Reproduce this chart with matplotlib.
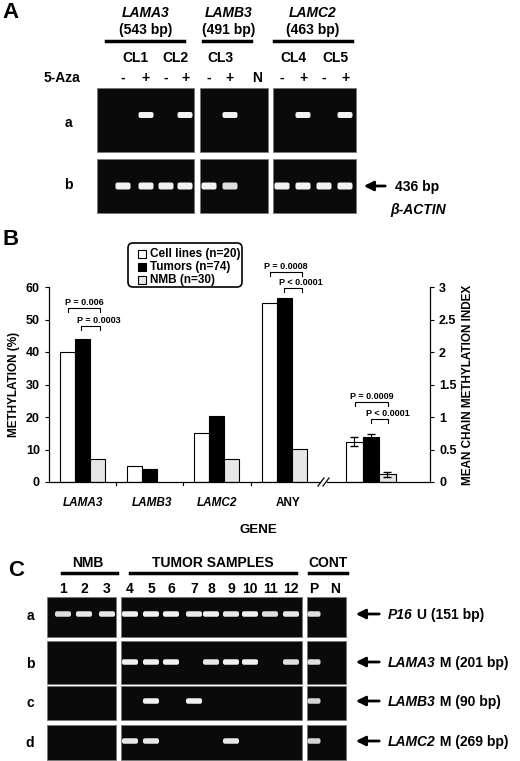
import matplotlib.pyplot as plt
from matplotlib.patches import Rectangle, FancyBboxPatch

plt.rcParams["font.family"] = ["Liberation Sans", "DejaVu Sans"]
plt.rcParams["font.weight"] = "bold"

# ---- panel B data ----
genes = ["LAMA3", "LAMB3", "LAMC2", "ANY"]
cell_lines = [40, 5, 15, 55]
tumors = [44, 4, 20.3, 56.5]
nmb = [7, 0, 7, 10.3]
mcmi_vals = [0.62, 0.70, 0.12]      # cell lines, tumors, NMB (right axis)
mcmi_err = [0.07, 0.04, 0.04]
legend_labels = ["Cell lines (n=20)", "Tumors (n=74)", "NMB (n=30)"]

# ---- panel A gel data (band intensity per lane, 0 = none) ----
a_lanes_row_a = [0, 1, 0, 1, 0, 1, 0, 0, 1, 0, 1]
a_lanes_row_b = [1, 1, 1, 1, 1, 0.8, 0, 1, 1, 1, 1]
a_aza = ["-", "+", "-", "+", "-", "+", "N", "-", "+", "-", "+"]

# ---- panel C gel data: lanes 1..12, P, N ----
c_lanes = ["1", "2", "3", "4", "5", "6", "7", "8", "9", "10", "11", "12", "P", "N"]
c_rows = {
    "a": [0.8, 0.9, 0.9, 1, 1, 1, 0.9, 1, 0.9, 1, 0.8, 0.9, 0.8, 0],
    "b": [0, 0, 0, 1, 1, 1, 0, 0.9, 1, 1, 0, 0.8, 0.8, 0],
    "c": [0, 0, 0, 0, 1, 0, 1, 0, 0, 0, 0, 0, 0.7, 0],
    "d": [0, 0, 0, 0.9, 0.9, 0, 0, 0, 0.9, 0, 0, 0, 0.7, 0],
}
c_row_labels = ["P16 U (151 bp)", "LAMA3 M (201 bp)", "LAMB3 M (90 bp)", "LAMC2 M (269 bp)"]

fig = plt.figure(figsize=(5.2, 7.61), dpi=100)

# ================= Panel B bar axes =================
ax = fig.add_axes([49 / 520, 1 - 482 / 761, (430 - 49) / 520, (482 - 287) / 761])
ax.set_xlim(0, 381)
ax.set_ylim(0, 60)
starts = [11, 78, 145, 213]
w = 15
colors = ["white", "black", "#e6e6e6"]
for i, s in enumerate(starts):
    for j, vals in enumerate([cell_lines, tumors, nmb]):
        if vals[i] > 0:
            ax.bar(s + j * w, vals[i], width=w, align="edge", color=colors[j], edgecolor="k", lw=0.8)
ax2 = ax.twinx()
ax2.set_ylim(0, 3)
for j in range(3):
    ax2.bar(297 + j * 16.5, mcmi_vals[j], width=16.5, align="edge", color=colors[j], edgecolor="k", lw=0.8,
            yerr=mcmi_err[j], error_kw=dict(ecolor="k", capsize=3, lw=0.8))
for a in (ax, ax2):
    a.spines["top"].set_visible(False)
    a.spines["bottom"].set_visible(False)
    a.tick_params(labelsize=9, width=0.8, length=3)
ax.set_xticks([])
ax.set_yticks(range(0, 61, 10))
ax2.set_yticks([0, 0.5, 1, 1.5, 2, 2.5, 3])
ax2.set_yticklabels(["0", "0.5", "1", "1.5", "2", "2.5", "3"])
ax.set_ylabel("METHYLATION (%)", fontsize=8.5, fontweight="bold")
ax2.set_ylabel("MEAN CHAIN METHYLATION INDEX", fontsize=8.5, fontweight="bold")

# overlay in pixel coordinates, drawn on top
ov = fig.add_axes([0, 0, 1, 1], zorder=10)
ov.patch.set_visible(False)
ov.set_xlim(0, 520)
ov.set_ylim(761, 0)
ov.axis("off")


def band(x, y, inten, w=14, h=5):
    if inten <= 0:
        return
    g = 0.55 + 0.4 * inten
    ov.add_patch(FancyBboxPatch((x - w / 2, y - h / 2), w, h, boxstyle="round,pad=0.5,rounding_size=2",
                                fc=(g, g, g), ec="none", zorder=3))


def gel(x0, x1, y0, y1):
    ov.add_patch(Rectangle((x0, y0), x1 - x0, y1 - y0, fc="#0a0a0a", ec="#777777", lw=0.6, zorder=2))


def arrow(x0, x1, y):
    ov.annotate("", xy=(x0, y), xytext=(x1, y),
                arrowprops=dict(arrowstyle="-|>", color="k", lw=2, mutation_scale=14))


# ================= Panel A =================
ov.text(2, 18, "A", fontsize=16, fontweight="bold")
for x, g, bp in [(146, "LAMA3", "(543 bp)"), (229, "LAMB3", "(491 bp)"), (313, "LAMC2", "(463 bp)")]:
    ov.text(x, 13, g, fontsize=10, style="italic", ha="center", va="center")
    ov.text(x, 30, bp, fontsize=10, ha="center", va="center")
for x0, x1 in [(106, 184), (203, 251), (274, 352)]:
    ov.plot([x0, x1], [41, 41], color="k", lw=2.5)
for x, t in [(135, "CL1"), (175, "CL2"), (220, "CL3"), (293, "CL4"), (335, "CL5")]:
    ov.text(x, 58, t, fontsize=10, ha="center", va="center")
ov.text(80, 78, "5-Aza", fontsize=10, ha="right", va="center")
a_x = [123, 146, 166, 185, 209, 230, 257, 282, 303, 324, 345]
for x, t in zip(a_x, a_aza):
    ov.text(x, 78, t, fontsize=10, ha="center", va="center")
for y0, y1 in [(88, 152), (159, 213)]:
    gel(97, 194, y0, y1)
    gel(200, 268, y0, y1)
    gel(273, 356, y0, y1)
for x, v in zip(a_x, a_lanes_row_a):
    band(x, 115, v)
for x, v in zip(a_x, a_lanes_row_b):
    band(x, 186, v, h=6)
ov.text(68, 123, "a", fontsize=10, ha="center", va="center")
ov.text(68, 185, "b", fontsize=10, ha="center", va="center")
arrow(361, 388, 186)
ov.text(395, 187, "436 bp", fontsize=10, va="center")
ov.text(390, 210, "β-ACTIN", fontsize=10, style="italic", va="center")

# ================= Panel B extras =================
ov.text(2, 245, "B", fontsize=16, fontweight="bold")
ov.plot([49, 320], [482, 482], color="k", lw=0.9)
ov.plot([327, 430], [482, 482], color="k", lw=0.9)
ov.plot([318, 324], [486, 478], color="k", lw=0.9)
ov.plot([323, 329], [486, 478], color="k", lw=0.9)
for x in [116, 183, 251]:
    ov.plot([x, x], [482, 485], color="k", lw=0.8)
for x, g in zip([83, 152, 217, 288], genes):
    ov.text(x, 503, g, fontsize=8.5, ha="center", va="center", style="normal" if g == "ANY" else "italic")
ov.text(258, 530, "GENE", fontsize=9.5, ha="center", va="center")

ov.add_patch(FancyBboxPatch((128, 243), 114, 44, boxstyle="round,pad=0,rounding_size=5",
                            fc="white", ec="k", lw=1.2, zorder=4))
for k, (lab, c) in enumerate(zip(legend_labels, colors)):
    y = 254 + k * 13
    ov.add_patch(Rectangle((138, y - 4), 8, 8, fc=c, ec="k", lw=0.8, zorder=5))
    ov.text(150, y, lab, fontsize=8.5, va="center", zorder=5)

for x0, x1, y, lab in [(68, 100, 308, "P = 0.006"), (81, 100, 326, "P = 0.0003"),
                       (270, 302, 272, "P = 0.0008"), (284, 302, 288, "P < 0.0001"),
                       (355, 388, 402, "P = 0.0009"), (371, 388, 419, "P < 0.0001")]:
    ov.plot([x0, x0, x1, x1], [y + 4, y, y, y + 4], color="k", lw=0.8)
    ov.text((x0 + x1) / 2 + (8 if x1 - x0 < 25 else 0), y - 1, lab, fontsize=6.5, ha="center", va="bottom")

# ================= Panel C =================
ov.text(8, 576, "C", fontsize=16, fontweight="bold")
for x, t, x0, x1 in [(88, "NMB", 62, 117), (213, "TUMOR SAMPLES", 130, 296), (328, "CONT", 309, 347)]:
    ov.text(x, 563, t, fontsize=10, ha="center", va="center")
    ov.plot([x0, x1], [573, 573], color="k", lw=2.5)
c_x = [63, 84, 107, 130, 151, 171, 194, 211, 231, 250, 270, 291, 314, 335]
for x, t in zip(c_x, c_lanes):
    ov.text(x, 589, t, fontsize=10, ha="center", va="center")
row_y = [(597, 637), (641, 684), (686, 720), (725, 760)]
band_y = [614, 662, 701, 741]
for (y0, y1), by, (key, vals), lab in zip(row_y, band_y, c_rows.items(), c_row_labels):
    gel(47, 116, y0, y1)
    gel(121, 302, y0, y1)
    gel(307, 346, y0, y1)
    for x, v in zip(c_x, vals):
        band(x, by, v, w=15 if x < 305 else 12, h=4.5)
    ov.text(30, by + 2, key, fontsize=10, ha="center", va="center")
    arrow(353, 382, by)
    name, rest = lab.split(" ", 1)
    t = ov.text(388, by + 1, name, fontsize=10, style="italic", va="center")
    ov.annotate(" " + rest, xycoords=t, xy=(1, 0.5), va="center", fontsize=10)

fig.savefig("out.png", dpi=100)
